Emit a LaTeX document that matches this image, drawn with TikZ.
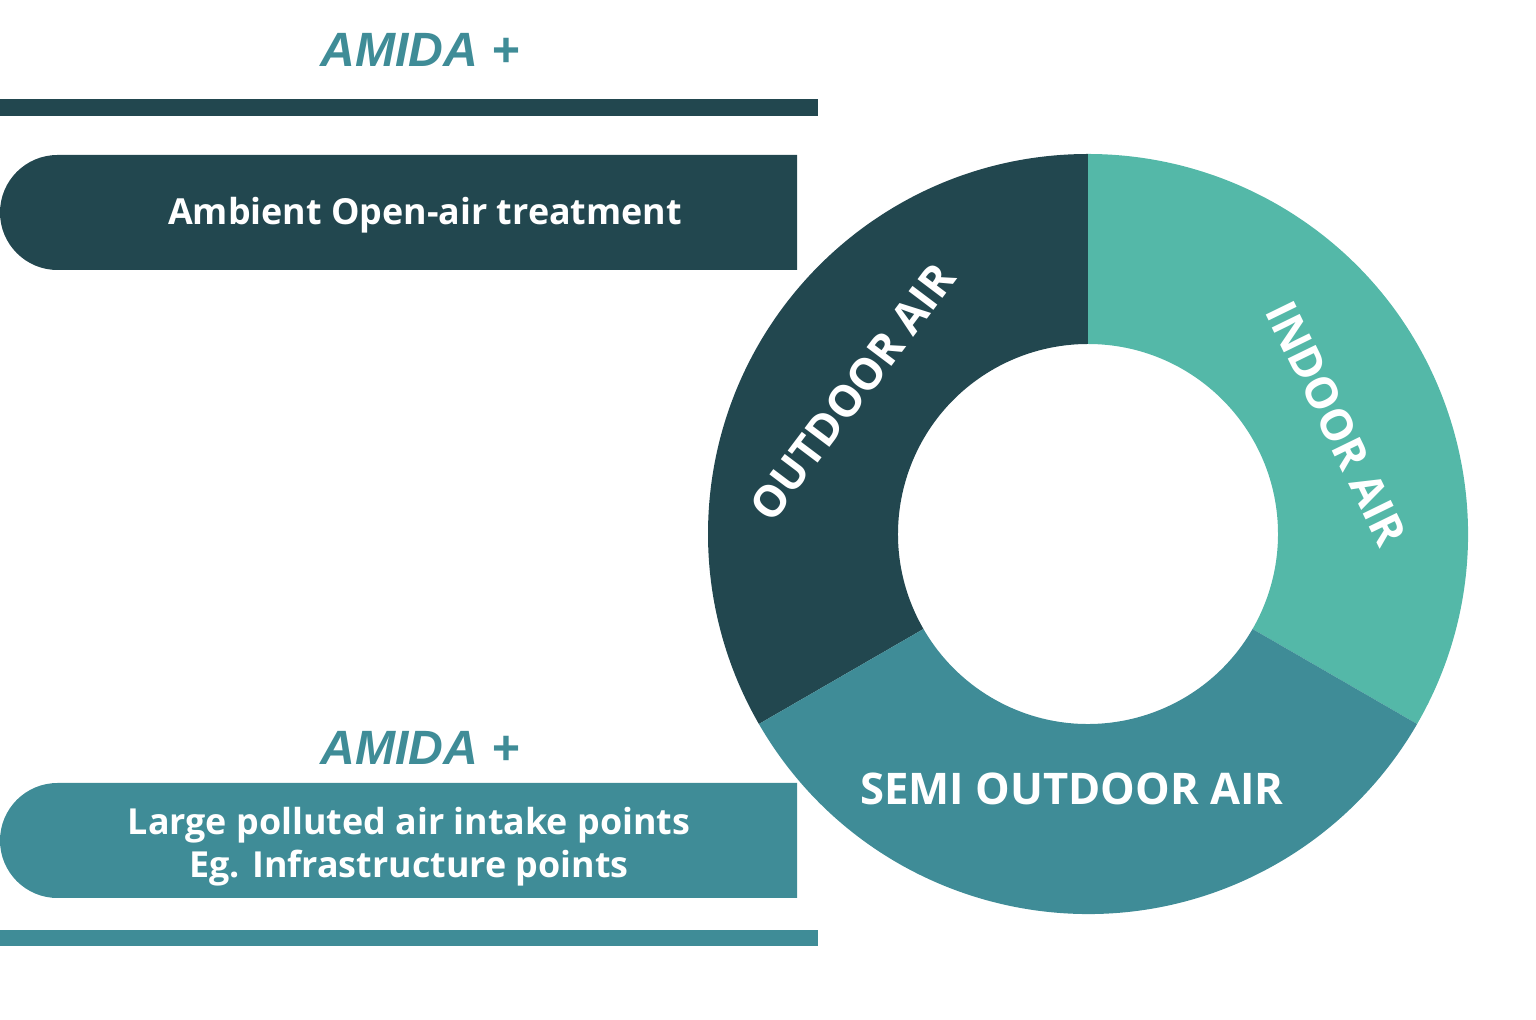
\documentclass[tikz,border=0pt]{standalone}
\usepackage{fontspec}
\setmainfont{Open Sans}
\newfontfamily\amidafont{Liberation Sans}
\usetikzlibrary{positioning}
\definecolor{AirDark}{RGB}{34,71,79}
\definecolor{AirMid}{RGB}{63,140,151}
\definecolor{AirLight}{RGB}{84,184,168}

\begin{document}
\begin{tikzpicture}[
    box text/.style={text=white, font=\fontsize{10.2}{12.3}\selectfont\bfseries, align=center},
    amida/.style={text=AirMid, font=\amidafont\fontsize{13.7}{16}\selectfont\bfseries\itshape},
    ring text/.style={text=white, font=\fontsize{12.4}{14}\selectfont\bfseries}]
    \useasboundingbox (0,0) rectangle (15.36,10.19);
    % top block
    \node[amida] (amidatop) at (4.20,9.69) {AMIDA +};
    \fill[AirDark] (0,9.20) rectangle (8.18,9.03);
    \fill[AirDark] (7.97,8.64) -- (0.575,8.64) arc (90:270:0.575) -- (7.97,7.49) -- cycle;
    \node[box text] (ambient) at (4.25,8.04) {Ambient Open-air treatment};
    % bottom block
    \node[amida] (amidabottom) at (4.20,2.71) {AMIDA +};
    \fill[AirMid] (7.97,2.36) -- (0.575,2.36) arc (90:270:0.575) -- (7.97,1.21) -- cycle;
    \node[box text] (intake) at (4.09,1.72) {Large polluted air intake points\\Eg. Infrastructure points};
    \fill[AirMid] (0,0.89) rectangle (8.18,0.73);
    % ring
    \begin{scope}[shift={(10.88,4.85)}]
        \fill[AirDark] (90:3.8) arc (90:210:3.8) -- (210:1.9) arc (210:90:1.9) -- cycle;
        \fill[AirLight] (-30:3.8) arc (-30:90:3.8) -- (90:1.9) arc (90:-30:1.9) -- cycle;
        \fill[AirMid] (210:3.8) arc (210:330:3.8) -- (330:1.9) arc (330:210:1.9) -- cycle;
        \node[ring text, rotate=53] (outdoor) at (149:2.75) {OUTDOOR AIR};
        \node[ring text, rotate=-64] (indoor) at (24:2.72) {INDOOR AIR};
        \node[ring text] (semi) at (-0.16,-2.55) {SEMI OUTDOOR AIR};
    \end{scope}
\end{tikzpicture}
\end{document}
